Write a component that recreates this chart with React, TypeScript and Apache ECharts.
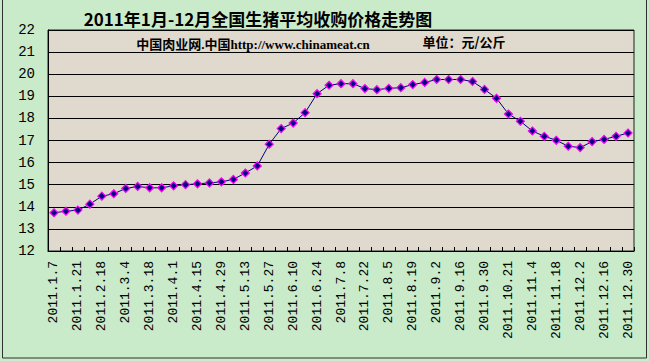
import React, { useEffect, useRef } from "react";
import * as echarts from "echarts";

const categories: string[] = [
  "2011.1.7", "2011.1.14", "2011.1.21", "2011.1.28", "2011.2.18", "2011.2.25",
  "2011.3.4", "2011.3.11", "2011.3.18", "2011.3.25", "2011.4.1", "2011.4.8",
  "2011.4.15", "2011.4.22", "2011.4.29", "2011.5.6", "2011.5.13", "2011.5.20",
  "2011.5.27", "2011.6.3", "2011.6.10", "2011.6.17", "2011.6.24", "2011.7.1",
  "2011.7.8", "2011.7.15", "2011.7.22", "2011.7.29", "2011.8.5", "2011.8.12",
  "2011.8.19", "2011.8.26", "2011.9.2", "2011.9.9", "2011.9.16", "2011.9.23",
  "2011.9.30", "2011.10.14", "2011.10.21", "2011.10.28", "2011.11.4", "2011.11.11",
  "2011.11.18", "2011.11.25", "2011.12.2", "2011.12.9", "2011.12.16", "2011.12.23",
  "2011.12.30",
];

const prices: number[] = [
  13.73, 13.8, 13.85, 14.12, 14.48, 14.59, 14.83, 14.92, 14.86, 14.86,
  14.95, 15.0, 15.04, 15.08, 15.13, 15.24, 15.53, 15.85, 16.83, 17.54,
  17.79, 18.26, 19.12, 19.5, 19.57, 19.57, 19.35, 19.3, 19.36, 19.39,
  19.53, 19.63, 19.76, 19.76, 19.76, 19.67, 19.31, 18.91, 18.2, 17.87,
  17.43, 17.19, 17.01, 16.74, 16.68, 16.95, 17.05, 17.19, 17.34,
];

const yMin = 12;
const yMax = 22;
const yStep = 1;

const titleText = "2011年1月-12月全国生猪平均收购价格走势图";
const sourceText = "中国肉业网.中国http://www.chinameat.cn";
const unitText = "单位：元/公斤";

export default function App() {
  const ref = useRef<HTMLDivElement>(null);
  useEffect(() => {
    document.body.style.margin = "0";
    if (!ref.current) return;
    const chart = echarts.init(ref.current, undefined, { renderer: "svg" });
    chart.setOption({
      animation: false,
      backgroundColor: "#c9ebca",
      grid: {
        left: 48,
        right: 15,
        top: 30,
        bottom: 110,
        show: true,
        backgroundColor: "#e0d9cd",
        borderColor: "#202020",
        borderWidth: 1,
      },
      graphic: [
        {
          type: "rect",
          shape: { x: 2.5, y: -2, width: 644, height: 360 },
          style: { fill: "none", stroke: "#303030", lineWidth: 1 },
          silent: true,
        },
        {
          type: "text",
          x: 258,
          y: 18,
          style: {
            text: titleText,
            font: "bold 17px 'Noto Sans CJK SC'",
            fill: "#000",
            textAlign: "center",
            textVerticalAlign: "middle",
          },
          z: 10,
        },
        {
          type: "text",
          x: 253,
          y: 44,
          style: {
            text: sourceText,
            font: "bold 13px 'Liberation Serif', 'Noto Sans CJK SC'",
            fill: "#000",
            textAlign: "center",
            textVerticalAlign: "middle",
          },
          z: 10,
        },
        {
          type: "text",
          x: 464,
          y: 41,
          style: {
            text: unitText,
            font: "bold 13px 'Noto Sans CJK SC'",
            fill: "#000",
            textAlign: "center",
            textVerticalAlign: "middle",
          },
          z: 10,
        },
      ],
      xAxis: {
        type: "category",
        data: categories,
        boundaryGap: true,
        axisLine: { show: true, lineStyle: { color: "#000", width: 1 } },
        axisTick: {
          show: true,
          inside: true,
          length: 4,
          interval: 0,
          lineStyle: { color: "#000" },
        },
        axisLabel: {
          interval: 1,
          rotate: 90,
          margin: 10,
          color: "#000",
          fontSize: 13,
          fontFamily: "'Liberation Mono', monospace",
        },
        splitLine: { show: false },
      },
      yAxis: {
        type: "value",
        min: yMin,
        max: yMax,
        interval: yStep,
        axisLine: { show: true, lineStyle: { color: "#000" } },
        axisTick: { show: false },
        axisLabel: {
          color: "#000",
          fontSize: 14,
          margin: 13,
          fontFamily: "'Liberation Mono', monospace",
        },
        splitLine: { show: true, lineStyle: { color: "#000", width: 1.2 } },
      },
      series: [
        {
          type: "line",
          data: prices,
          symbol: "diamond",
          symbolSize: 8,
          showSymbol: true,
          showAllSymbol: true,
          lineStyle: { color: "#000080", width: 1 },
          itemStyle: { color: "#000080", borderColor: "#ff00ff", borderWidth: 1.2 },
          z: 5,
        },
      ],
    });
    return () => chart.dispose();
  }, []);
  return (
    <div
      ref={ref}
      style={{ position: "absolute", left: 0, top: 0, width: 649, height: 361 }}
    />
  );
}
